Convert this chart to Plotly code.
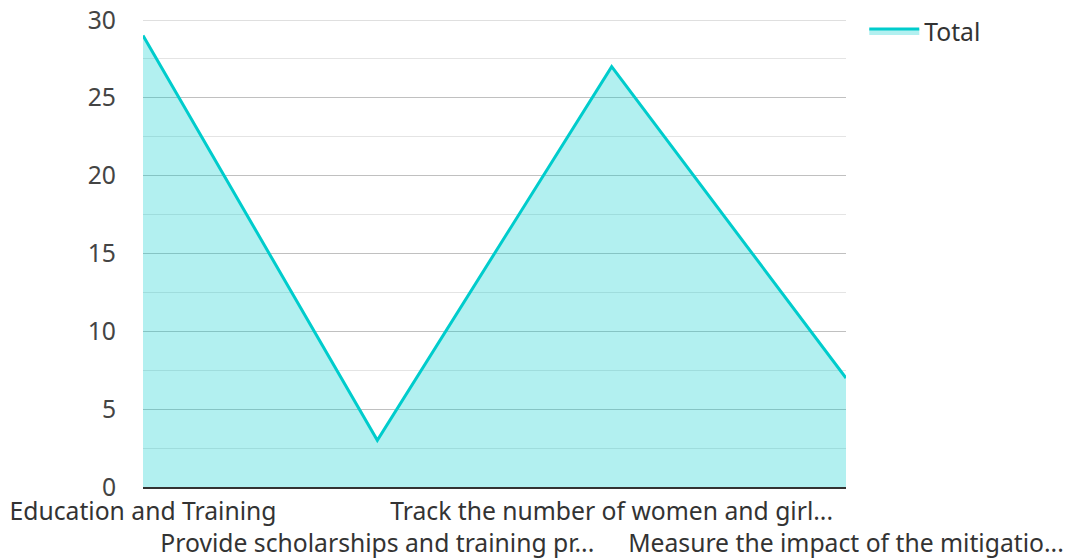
import plotly.graph_objects as go

categories = [
    "Education and Training",
    "Provide scholarships and training pr...",
    "Track the number of women and girl...",
    "Measure the impact of the mitigatio...",
]
totals = [29, 3, 27, 7]
y_ticks = [0, 5, 10, 15, 20, 25, 30]

# alternate label rows
tick_text = [c if i % 2 == 0 else "<br>" + c for i, c in enumerate(categories)]
x_pos = list(range(len(categories)))

fig = go.Figure()
fig.add_trace(go.Scatter(
    x=x_pos, y=totals, name="Total", mode="lines",
    line=dict(color="#00CCCC", width=3),
    fill="tozeroy", fillcolor="rgba(0,204,204,0.3)",
))

# top gridline (plotly clips grid at the range end)
fig.add_shape(type="line", xref="paper", x0=0, x1=1, yref="y",
              y0=y_ticks[-1], y1=y_ticks[-1],
              line=dict(color="#c0c0c0", width=1), layer="below")

font_family = "Noto Sans, Open Sans, sans-serif"
fig.update_layout(
    width=1067, height=558,
    margin=dict(l=143, r=221, t=20, b=71),
    paper_bgcolor="white", plot_bgcolor="white",
    font=dict(family=font_family, size=24.7, color="#444444"),
    showlegend=True,
    legend=dict(xref="container", yref="container", x=0.81, y=0.985,
                xanchor="left", yanchor="top",
                font=dict(size=24.7, color="#333333"), itemwidth=50,
                bgcolor="rgba(0,0,0,0)"),
    xaxis=dict(
        tickmode="array", tickvals=x_pos, ticktext=tick_text,
        range=[0, len(categories) - 1], showgrid=False, zeroline=False,
        showline=True, linecolor="#333333", linewidth=2, ticks="",
        tickangle=0, automargin=False, ticklabelstandoff=1,
        tickfont=dict(size=24.7, color="#333333"),
    ),
    yaxis=dict(
        range=[0, 30], tickvals=y_ticks, showgrid=True,
        gridcolor="#c0c0c0", gridwidth=1, zeroline=False, ticks="",
        ticklabelstandoff=26, automargin=False,
        tickfont=dict(size=24.7, color="#444444"),
        minor=dict(dtick=2.5, showgrid=True, gridcolor="#e4e4e4", gridwidth=1),
    ),
)

fig.write_html("out.html")
